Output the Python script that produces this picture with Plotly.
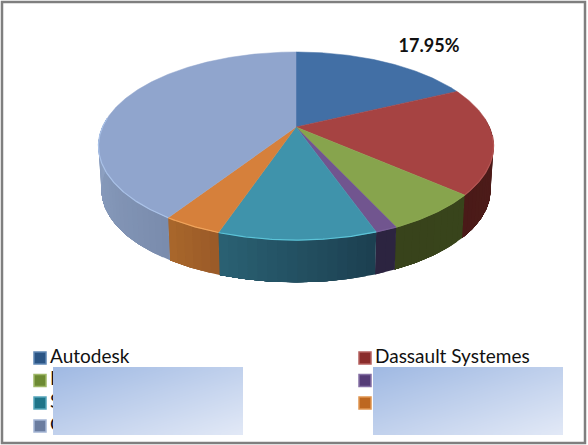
import math

import plotly.graph_objects as go

# shares, only the first one is printed on it
labels = ['Autodesk', 'Dassault Systemes', 'I', '', 'S', '', 'O']
shares = [17.95, 18.4, 6.7, 1.5, 10.7, 4.0, 40.75]
top_colors = ['#426fa5', '#a64342', '#87a44d', '#71558f', '#3f93ab', '#d6803b', '#90a5cd']
wall_start = ['#2f5078', '#4f1d1a', '#38441b', '#2c2440', '#1c3f50', '#9a5a28', '#7a8cad']
wall_end = ['#2f5078', '#4a1a18', '#38431b', '#2c2440', '#2a6173', '#a9672b', '#8fa3c4']
rim_colors = ['#5f8cc0', '#b55654', '#8aa651', '#7a5f98', '#5cc4d8', '#f0a45c', '#aac2e8']
marker_outer = ['#5f86b4', '#b5605f', '#9fb868', '#8570a5', '#55a5bb', '#e09550', '#a4b5d5']
marker_inner = ['#2b5585', '#8a2c2b', '#6d8a33', '#553c77', '#1f7488', '#bd6720', '#6a7c9f']

percent_label = '17.95%'

# pie geometry in picture pixels
CX, CY = 296, 127
A, B, K = 90.2, 193.5, 0.2022
DEPTH = 44


def project(angle, depth=0.0):
    # angle clockwise from the back of the pie, simple perspective
    x = math.sin(angle)
    y = math.cos(angle)
    w = 1 + K * y
    scale = 1 - 0.015 * depth / DEPTH
    return CX + scale * B * x / w, CY - scale * A * y / w + depth


def mix(c1, c2, t):
    a = [int(c1[i:i + 2], 16) for i in (1, 3, 5)]
    b = [int(c2[i:i + 2], 16) for i in (1, 3, 5)]
    return 'rgb({},{},{})'.format(*[round(p + (q - p) * t) for p, q in zip(a, b)])


def arc(start, end, depth=0.0, step=0.01):
    n = max(2, int((end - start) / step))
    return [project(start + (end - start) * i / n, depth) for i in range(n + 1)]


fig = go.Figure()

total = sum(shares)
edges = [0.0]
for share in shares:
    edges.append(edges[-1] + share / total * 2 * math.pi)

# side wall, each strip runs to the slice end and the next one paints over it, so no seams
for i, share in enumerate(shares):
    start = max(edges[i], math.pi / 2 - 0.1)
    end = min(edges[i + 1], 3 * math.pi / 2 + 0.1)
    if end <= start:
        continue
    n = max(1, int((end - start) / 0.04))
    for j in range(n):
        a0 = start + (end - start) * j / n
        pts = arc(a0, end) + arc(a0, end, DEPTH)[::-1]
        color = mix(wall_start[i], wall_end[i], (j + 0.5) / n)
        fig.add_trace(go.Scatter(x=[p[0] for p in pts] + [pts[0][0]], y=[p[1] for p in pts] + [pts[0][1]],
                                 mode='lines', fill='toself', fillcolor=color,
                                 line=dict(width=0), hoverinfo='skip', showlegend=False))

# top face
for i, share in enumerate(shares):
    pts = [(CX, CY)] + arc(edges[i], edges[i + 1]) + [(CX, CY)]
    fig.add_trace(go.Scatter(x=[p[0] for p in pts], y=[p[1] for p in pts],
                             mode='lines', fill='toself', fillcolor=top_colors[i],
                             line=dict(color=top_colors[i], width=0.5), name=labels[i] or 'slice', showlegend=False))

# light bevel along the front edge
for i, share in enumerate(shares):
    start = max(edges[i], math.pi / 2 + 0.1)
    end = min(edges[i + 1], 3 * math.pi / 2 + 0.1)
    if end <= start:
        continue
    pts = arc(start, end)
    fig.add_trace(go.Scatter(x=[p[0] for p in pts], y=[p[1] for p in pts], mode='lines',
                             line=dict(color=rim_colors[i], width=1.2), hoverinfo='skip', showlegend=False))

# legend by hand, two columns, the boxes cover most of it
legend_rows = [358, 358, 380.5, 380.5, 403, 403, 426]
legend_cols = [40, 365, 40, 365, 40, 365, 40]
for i, label in enumerate(labels):
    lx, ly = legend_cols[i], legend_rows[i]
    fig.add_trace(go.Scatter(x=[lx], y=[ly], mode='markers', hoverinfo='skip', showlegend=False,
                             marker=dict(symbol='square', size=12, color=marker_inner[i],
                                         line=dict(color=marker_outer[i], width=1.5))))
    if label:
        fig.add_trace(go.Scatter(x=[lx + 10], y=[ly], mode='text', text=[label], textposition='middle right',
                                 textfont=dict(family='Lato', size=19, color='#111111'),
                                 hoverinfo='skip', showlegend=False))

fig.add_trace(go.Scatter(x=[429], y=[47], mode='text', text=[percent_label], textposition='middle center',
                         textfont=dict(family='Lato', size=18, color='#111111', weight='bold'),
                         hoverinfo='skip', showlegend=False))

# gradient boxes on an overlaid pair of axes so they sit above the legend text
box_lefts = [53, 373]
box_top, box_bottom = 367, 435
box_width = 190
grid_x, grid_y = 38, 14
box_ramp = [[(cx / (grid_x - 1) + cy / (grid_y - 1)) / 2 for cx in range(grid_x)] for cy in range(grid_y)]
for left in box_lefts:
    fig.add_trace(go.Heatmap(x0=left + box_width / grid_x / 2, dx=box_width / grid_x,
                             y0=box_top + (box_bottom - box_top) / grid_y / 2,
                             dy=(box_bottom - box_top) / grid_y,
                             z=box_ramp, zsmooth='best', showscale=False, hoverinfo='skip',
                             colorscale=[[0, '#a1bae3'], [1, '#e1e8f6']], xaxis='x2', yaxis='y2'))

axis = dict(range=[0, 588], visible=False, fixedrange=True)
yaxis = dict(range=[445, 0], visible=False, fixedrange=True)
fig.update_layout(
    width=588, height=445, autosize=False,
    margin=dict(l=0, r=0, t=0, b=0),
    paper_bgcolor='white', plot_bgcolor='white',
    xaxis=axis, yaxis=yaxis,
    xaxis2=dict(axis, overlaying='x'), yaxis2=dict(yaxis, overlaying='y'),
    shapes=[dict(type='rect', xref='x', yref='y', x0=2, y0=2, x1=585, y1=443,
                 line=dict(color='#7f7f7f', width=2.5), layer='above')],
)
fig.write_html("out.html", config=dict(displayModeBar=False), post_script="document.body.style.margin='0';")
